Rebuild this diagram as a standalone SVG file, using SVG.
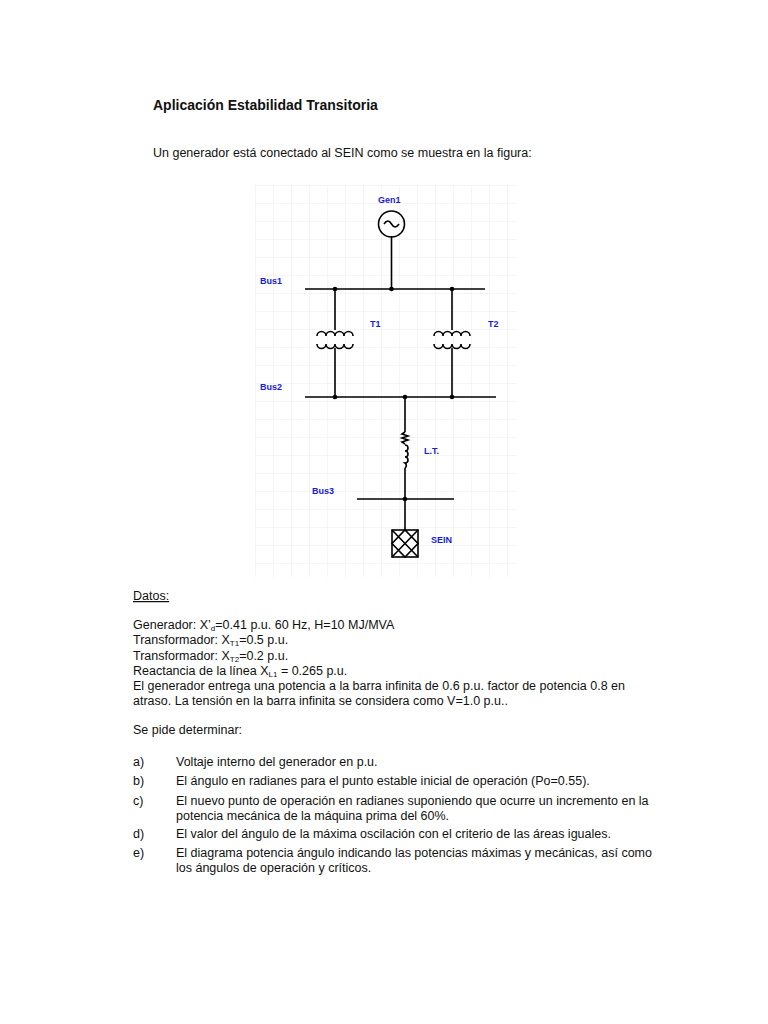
<svg xmlns="http://www.w3.org/2000/svg" width="768" height="1024" viewBox="0 0 768 1024">
<style>
text{font-family:"Liberation Sans",Arial,sans-serif;font-size:12.5px;fill:#111}
.t{font-weight:bold;font-size:14px}
.l{font-weight:bold;font-size:9px;fill:#1a1ad8}
.w{stroke:#000;stroke-width:1.6;fill:none}
.g{stroke:#ececec;stroke-width:1}
.d{fill:#000}
</style>
<rect width="768" height="1024" fill="#fff"/>
<defs>
<pattern id="grid" width="18" height="18" patternUnits="userSpaceOnUse" x="255" y="185">
<path d="M0 0H18M0 0V18" class="g"/>
</pattern>
<path id="coil" d="M0 0a4.5 4.5 0 0 0 9 0a4.5 4.5 0 0 0 9 0a4.5 4.5 0 0 0 9 0a4.5 4.5 0 0 0 9 0" class="w"/>
</defs>
<rect x="255" y="185" width="262" height="392" fill="url(#grid)"/>
<text class="t" x="153" y="110">Aplicación Estabilidad Transitoria</text>
<text x="153" y="157">Un generador está conectado al SEIN como se muestra en la figura:</text>
<g id="connectors">
<path class="w" d="M391.5 236V289M305 289H485M335 289V330M335 348V397M452 289V330M452 348V397M305 397H496M405 397V432M405 468V499M357 499H454M405 499V530"/>
<path class="w" d="M405 432l-3 2l6 2l-6 2l6 2l-6 2l3 2"/>
<path class="w" d="M405 445a3 3 0 0 1 0 6a3 3 0 0 1 0 6a3 3 0 0 1 0 6a3 3 0 0 1 0 5"/>
</g>
<g id="Gen1"><circle cx="391.5" cy="224" r="13" class="w"/><path class="w" d="M384 224q4-6 7.5 0t7.5 0"/><text class="l" x="378" y="203">Gen1</text></g>
<g id="Bus1"><text class="l" x="260" y="284">Bus1</text><circle class="d" cx="335" cy="289" r="2.3"/><circle class="d" cx="391.5" cy="289" r="2.3"/><circle class="d" cx="452" cy="289" r="2.3"/></g>
<g id="T1"><use href="#coil" transform="translate(317 332) scale(1 -1) translate(0 -4)"/><use href="#coil" transform="translate(317 344)" /><path class="w" d="M317 334H353" stroke-opacity="0"/><text class="l" x="370" y="327">T1</text></g>
<g id="T2"><use href="#coil" transform="translate(434 332) scale(1 -1) translate(0 -4)"/><use href="#coil" transform="translate(434 344)"/><text class="l" x="488" y="327">T2</text></g>
<g id="Bus2"><text class="l" x="260" y="390">Bus2</text><circle class="d" cx="335" cy="397" r="2.3"/><circle class="d" cx="405" cy="397" r="2.3"/><circle class="d" cx="452" cy="397" r="2.3"/></g>
<g id="LT"><text class="l" x="424" y="454">L.T.</text></g>
<g id="Bus3"><text class="l" x="312" y="494">Bus3</text><circle class="d" cx="405" cy="499" r="2.3"/></g>
<g id="SEIN"><rect x="392" y="530" width="26" height="27" class="w"/><path class="w" d="M392 530L418 557M418 530L392 557M392 543.5L405 530L418 543.5L405 557Z" stroke-width="1.1"/><text class="l" x="431" y="543">SEIN</text></g>
<text x="133" y="600" text-decoration="underline">Datos:</text>
<text x="133" y="629">Generador: X’<tspan font-size="8" dy="2">d</tspan><tspan dy="-2">=0.41 p.u. 60 Hz, H=10 MJ/MVA</tspan></text>
<text x="133" y="644">Transformador: X<tspan font-size="8" dy="2">T1</tspan><tspan dy="-2">=0.5 p.u.</tspan></text>
<text x="133" y="660">Transformador: X<tspan font-size="8" dy="2">T2</tspan><tspan dy="-2">=0.2 p.u.</tspan></text>
<text x="133" y="675">Reactancia de la línea X<tspan font-size="8" dy="2">L1</tspan><tspan dy="-2"> = 0.265 p.u.</tspan></text>
<text x="133" y="690">El generador entrega una potencia a la barra infinita de 0.6 p.u. factor de potencia 0.8 en</text>
<text x="133" y="705">atraso. La tensión en la barra infinita se considera como V=1.0 p.u..</text>
<text x="133" y="734">Se pide determinar:</text>
<text x="133" y="766">a)</text><text x="176" y="766">Voltaje interno del generador en p.u.</text>
<text x="133" y="785">b)</text><text x="176" y="785">El ángulo en radianes para el punto estable inicial de operación (Po=0.55).</text>
<text x="133" y="805">c)</text><text x="176" y="805">El nuevo punto de operación en radianes suponiendo que ocurre un incremento en la</text>
<text x="176" y="820">potencia mecánica de la máquina prima del 60%.</text>
<text x="133" y="838">d)</text><text x="176" y="838">El valor del ángulo de la máxima oscilación con el criterio de las áreas iguales.</text>
<text x="133" y="857">e)</text><text x="176" y="857">El diagrama potencia ángulo indicando las potencias máximas y mecánicas, así como</text>
<text x="176" y="872">los ángulos de operación y críticos.</text>
</svg>
